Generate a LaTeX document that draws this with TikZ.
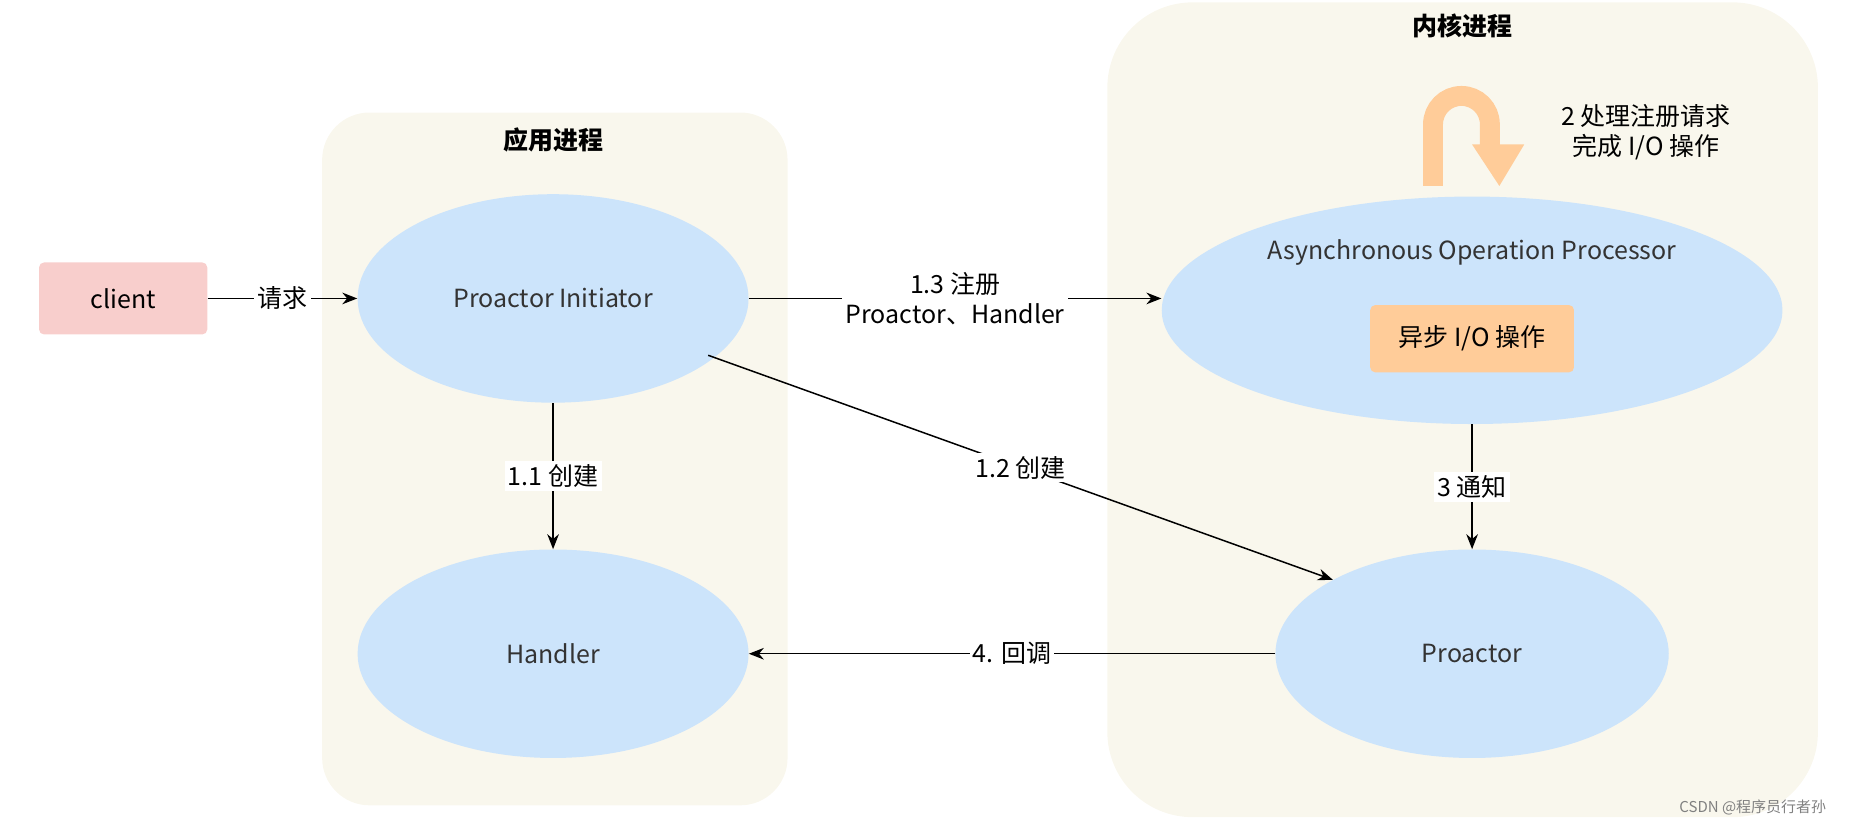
\documentclass[tikz,border=0pt]{standalone}
\usepackage{fontspec}
\setmainfont{Noto Sans CJK SC}
\usetikzlibrary{shapes.geometric,arrows.meta}
\definecolor{bgc}{HTML}{F9F7ED}
\definecolor{blu}{HTML}{CCE4FB}
\definecolor{pnk}{HTML}{F8CECC}
\definecolor{org}{HTML}{FFCC99}
\definecolor{txt}{HTML}{333333}
\tikzset{
  ell/.style={ellipse, fill=blu, text=txt, font=\fontsize{15}{18}\selectfont},
  lbl/.style={fill=white, inner sep=2pt, font=\fontsize{15}{18}\selectfont, align=center},
  arr/.style={-{Stealth[length=9pt,width=7pt]}, line width=0.9pt},
}
\begin{document}
\begin{tikzpicture}[x=0.025cm,y=-0.025cm]
\useasboundingbox (0,0) rectangle (1568,695);
\fill[bgc, rounded corners=1cm] (272,95) rectangle (665,680);
\fill[bgc, rounded corners=1.8cm] (935,2) rectangle (1535,690);
\node[font=\fontsize{15}{18}\selectfont\bfseries] (t1) at (467,118) {应用进程};
\node[font=\fontsize{15}{18}\selectfont\bfseries] (t2) at (1235,22) {内核进程};
\node[fill=pnk, rounded corners=3pt, minimum width=3.55cm, minimum height=1.52cm, font=\fontsize{15}{18}\selectfont] (client) at (104,252) {client};
\node[ell, minimum width=8.25cm, minimum height=4.4cm] (pi) at (467,252) {Proactor Initiator};
\node[ell, minimum width=8.25cm, minimum height=4.4cm] (h) at (467,552) {Handler};
\node[ell, minimum width=13.1cm, minimum height=4.8cm] (aop) at (1243,262) {};
\node[text=txt, font=\fontsize{15}{18}\selectfont] (aopt) at (1243,213) {Asynchronous Operation Processor};
\node[fill=org, rounded corners=3pt, minimum width=4.3cm, minimum height=1.42cm, font=\fontsize{15}{18}\selectfont] (io) at (1243,286) {异步 I/O 操作};
\node[ell, minimum width=8.3cm, minimum height=4.4cm] (p) at (1243,552) {Proactor};
% u-turn
\draw[org, line width=0.42cm] (1210,157) -- (1210,105) arc (180:0:0.6cm) -- (1258,125);
\fill[org] (1243,122) -- (1287,122) -- (1266,157) -- cycle;
\node[lbl, fill=none] (l2) at (1390,112) {2 处理注册请求\\完成 I/O 操作};
\coordinate (aopw) at (aop.west |- pi.east);
\draw[arr] (client) -- node[lbl]{请求} (pi);
\draw[arr] (pi.east) -- node[lbl]{1.3 注册\\Proactor、Handler} (aopw);
\draw[arr] (pi) -- node[lbl]{1.1 创建} (h);
\coordinate (pis) at (598,300);
\draw[arr] (pis) -- node[lbl]{1.2 创建} (p.north west);
\draw[arr] (aop) -- node[lbl]{3 通知} (p);
\draw[arr] (p) -- node[lbl]{4. 回调} (h);
\node[text=gray, font=\fontsize{9}{11}\selectfont] (wm) at (1480,682) {CSDN @程序员行者孙};
\end{tikzpicture}
\end{document}
